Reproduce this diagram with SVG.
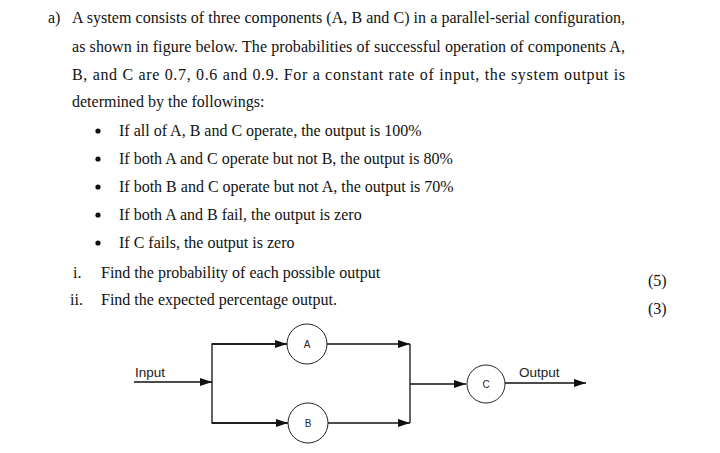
<svg xmlns="http://www.w3.org/2000/svg" width="720" height="453" viewBox="0 0 720 453">
<style>
.t{font-family:"Liberation Serif","Times New Roman",serif;font-size:16px;fill:#111}
.s{font-family:"Liberation Sans",sans-serif;font-size:13.5px;fill:#222}
.n{font-family:"Liberation Sans",sans-serif;font-size:10px;fill:#222;text-anchor:middle}
.l{stroke:#111;stroke-width:1.3;fill:none}
.c{stroke:#222;stroke-width:1;fill:#fff}
</style>
<defs><marker id="ar" markerWidth="12" markerHeight="8" refX="12" refY="4" orient="auto" markerUnits="userSpaceOnUse"><path d="M0,0L12,4L0,8z" fill="#111"/></marker></defs>
<rect width="720" height="453" fill="#fff"/>
<g id="text">
<text class="t" x="48" y="23">a)</text>
<text class="t" x="72" y="23" textLength="553" lengthAdjust="spacing">A system consists of three components (A, B and C) in a parallel-serial configuration,</text>
<text class="t" x="72" y="52" textLength="553" lengthAdjust="spacing">as shown in figure below. The probabilities of successful operation of components A,</text>
<text class="t" x="72" y="80" textLength="553" lengthAdjust="spacing">B, and C are 0.7, 0.6 and 0.9. For a constant rate of input, the system output is</text>
<text class="t" x="72" y="107">determined by the followings:</text>
<circle cx="98" cy="131" r="2.6" fill="#111"/><text class="t" x="119" y="136">If all of A, B and C operate, the output is 100%</text>
<circle cx="98" cy="159" r="2.6" fill="#111"/><text class="t" x="119" y="164">If both A and C operate but not B, the output is 80%</text>
<circle cx="98" cy="187" r="2.6" fill="#111"/><text class="t" x="119" y="192">If both B and C operate but not A, the output is 70%</text>
<circle cx="98" cy="215" r="2.6" fill="#111"/><text class="t" x="119" y="220">If both A and B fail, the output is zero</text>
<circle cx="98" cy="243" r="2.6" fill="#111"/><text class="t" x="119" y="248">If C fails, the output is zero</text>
<text class="t" x="73" y="278">i.</text>
<text class="t" x="101" y="278">Find the probability of each possible output</text>
<text class="t" x="70" y="305">ii.</text>
<text class="t" x="101" y="305">Find the expected percentage output.</text>
<text class="t" x="648" y="286">(5)</text>
<text class="t" x="648" y="314">(3)</text>
</g>
<g id="connectors">
<line class="l" x1="134" y1="382" x2="212" y2="382" marker-end="url(#ar)"/>
<polyline class="l" points="287,344 212,344 212,423 287,423"/>
<line class="l" x1="212" y1="344" x2="287" y2="344" marker-end="url(#ar)"/>
<line class="l" x1="212" y1="423" x2="288" y2="423" marker-end="url(#ar)"/>
<line class="l" x1="327" y1="344" x2="410" y2="344" marker-end="url(#ar)"/>
<line class="l" x1="328" y1="423" x2="410" y2="423" marker-end="url(#ar)"/>
<line class="l" x1="410" y1="344" x2="410" y2="423"/>
<line class="l" x1="410" y1="384" x2="466" y2="384" marker-end="url(#ar)"/>
<line class="l" x1="505" y1="383" x2="586" y2="383" marker-end="url(#ar)"/>
</g>
<text class="s" x="135" y="377">Input</text>
<text class="s" x="519" y="377">Output</text>
<g id="A"><circle class="c" cx="307" cy="344" r="20"/><text class="n" x="307" y="348">A</text></g>
<g id="B"><circle class="c" cx="308" cy="423" r="20"/><text class="n" x="308" y="427">B</text></g>
<g id="C"><circle class="c" cx="486" cy="384" r="19"/><text class="n" x="486" y="388">C</text></g>
</svg>
